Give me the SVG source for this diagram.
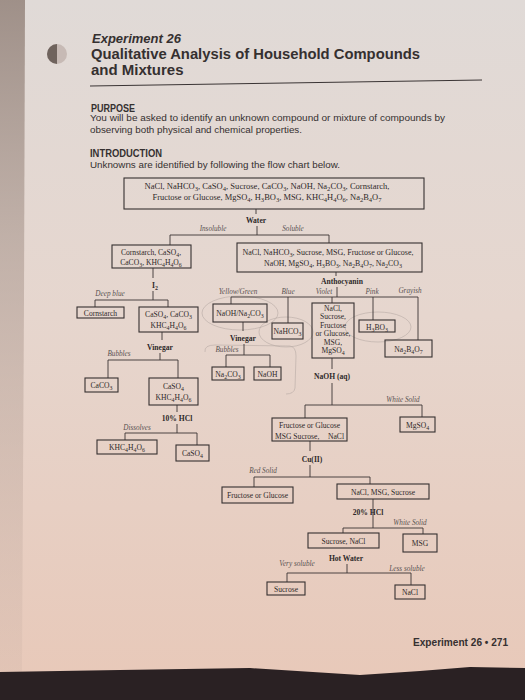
<svg xmlns="http://www.w3.org/2000/svg" width="525" height="700" viewBox="0 0 525 700">
<defs>
<linearGradient id="page" x1="0" y1="0" x2="0" y2="1">
<stop offset="0" stop-color="#e0dad7"/>
<stop offset="0.45" stop-color="#e6d6ce"/>
<stop offset="1" stop-color="#e8c8b8"/>
</linearGradient>
<linearGradient id="edge" x1="0" y1="0" x2="0" y2="1">
<stop offset="0" stop-color="#988880" stop-opacity="0.9"/>
<stop offset="0.35" stop-color="#a8968d" stop-opacity="0.6"/>
<stop offset="1" stop-color="#c7aea2" stop-opacity="0.2"/>
</linearGradient>
<style>
.h{font-family:"Liberation Sans",Arial,sans-serif;fill:#353030}
.t{font-family:"Liberation Serif","Times New Roman",serif;font-size:7.6px;fill:#2e2929;text-anchor:middle}
.b{font-weight:bold}
.l{font-family:"Liberation Serif","Times New Roman",serif;font-size:7.2px;font-style:italic;fill:#5a5252;text-anchor:middle}
.s{font-size:5.9px;baseline-shift:-1.6px}
.box{fill:none;stroke:#353030;stroke-width:1.1}
.c line{stroke:#3a3434;stroke-width:0.9}
.pen{fill:none;stroke:#b3a7a2;stroke-width:0.8;opacity:0.7}
</style>
</defs>
<rect width="525" height="700" fill="url(#page)"/>
<path d="M0,0 L25,0 L24,300 L22,672 L0,672 Z" fill="url(#edge)"/>
<circle cx="57" cy="54" r="10" fill="#c7bab5"/>
<path d="M57,44 A10,10 0 0 0 57,64 Z" fill="#6f635d"/>

<g id="header">
<text class="h" x="92" y="43" font-size="13" font-weight="bold" font-style="italic">Experiment 26</text>
<text class="h" x="91" y="59" font-size="15" font-weight="bold" textLength="329" lengthAdjust="spacingAndGlyphs">Qualitative Analysis of Household Compounds</text>
<text class="h" x="91" y="75" font-size="15" font-weight="bold">and Mixtures</text>
<line x1="90" y1="86" x2="482" y2="80" stroke="#3a3434" stroke-width="1"/>
<text class="h" x="91" y="112" font-size="11.5" font-weight="bold" textLength="44" lengthAdjust="spacingAndGlyphs">PURPOSE</text>
<text class="h" x="90" y="121" font-size="9" textLength="355" lengthAdjust="spacingAndGlyphs">You will be asked to identify an unknown compound or mixture of compounds by</text>
<text class="h" x="90" y="133" font-size="9" textLength="212" lengthAdjust="spacingAndGlyphs">observing both physical and chemical properties.</text>
<text class="h" x="90" y="157" font-size="11" font-weight="bold" textLength="72" lengthAdjust="spacingAndGlyphs">INTRODUCTION</text>
<text class="h" x="90" y="168" font-size="9" textLength="250" lengthAdjust="spacingAndGlyphs">Unknowns are identified by following the flow chart below.</text>
</g>

<g id="pencil">
<ellipse class="pen" cx="240" cy="313" rx="38" ry="17"/>
<ellipse class="pen" cx="286" cy="332" rx="27" ry="15"/>
<ellipse class="pen" cx="378" cy="327" rx="33" ry="15"/>
<path class="pen" d="M205,352 Q204,345 215,345 L290,346 Q296,347 296,356 L295,388 Q294,394 286,394"/>
</g>

<g class="c" id="connectors">
<line x1="256" y1="209" x2="256" y2="214"/>
<line x1="257" y1="226" x2="257" y2="235"/>
<line x1="170" y1="235" x2="329" y2="235"/>
<line x1="170" y1="235" x2="170" y2="245"/>
<line x1="329" y1="235" x2="329" y2="243"/>
<line x1="153" y1="268" x2="153" y2="278"/>
<line x1="153" y1="291" x2="153" y2="300"/>
<line x1="95" y1="300" x2="168" y2="300"/>
<line x1="95" y1="300" x2="95" y2="307"/>
<line x1="168" y1="300" x2="168" y2="307"/>
<line x1="162" y1="332" x2="162" y2="340"/>
<line x1="160" y1="353" x2="160" y2="360"/>
<line x1="108" y1="360" x2="178" y2="360"/>
<line x1="108" y1="360" x2="108" y2="378"/>
<line x1="178" y1="360" x2="178" y2="378"/>
<line x1="177" y1="405" x2="177" y2="412"/>
<line x1="177" y1="424" x2="177" y2="433"/>
<line x1="125" y1="433" x2="197" y2="433"/>
<line x1="125" y1="433" x2="125" y2="440"/>
<line x1="197" y1="433" x2="197" y2="445"/>
<line x1="336" y1="272" x2="336" y2="276"/>
<line x1="337" y1="287" x2="337" y2="297"/>
<line x1="231" y1="297" x2="418" y2="297"/>
<line x1="231" y1="297" x2="231" y2="304"/>
<line x1="288" y1="297" x2="288" y2="323"/>
<line x1="332" y1="297" x2="332" y2="303"/>
<line x1="373" y1="297" x2="373" y2="320"/>
<line x1="418" y1="297" x2="418" y2="340"/>
<line x1="243" y1="322" x2="243" y2="331"/>
<line x1="244" y1="344" x2="244" y2="355"/>
<line x1="226" y1="355" x2="270" y2="355"/>
<line x1="226" y1="355" x2="226" y2="367"/>
<line x1="270" y1="355" x2="270" y2="367"/>
<line x1="332" y1="358" x2="332" y2="369"/>
<line x1="332" y1="383" x2="332" y2="405"/>
<line x1="305" y1="405" x2="422" y2="405"/>
<line x1="305" y1="405" x2="305" y2="418"/>
<line x1="422" y1="405" x2="422" y2="417"/>
<line x1="310" y1="441" x2="310" y2="451"/>
<line x1="310" y1="465" x2="310" y2="477"/>
<line x1="254" y1="477" x2="370" y2="477"/>
<line x1="254" y1="477" x2="254" y2="487"/>
<line x1="370" y1="477" x2="370" y2="484"/>
<line x1="373" y1="499" x2="373" y2="528"/>
<line x1="343" y1="528" x2="423" y2="528"/>
<line x1="343" y1="528" x2="343" y2="533"/>
<line x1="423" y1="528" x2="423" y2="534"/>
<line x1="347" y1="564" x2="347" y2="573"/>
<line x1="287" y1="573" x2="411" y2="573"/>
<line x1="287" y1="573" x2="287" y2="582"/>
<line x1="411" y1="573" x2="411" y2="585"/>
</g>

<g id="edge-labels">
<text class="t b" x="256" y="223">Water</text>
<text class="l" x="213" y="231">Insoluble</text>
<text class="l" x="293" y="231">Soluble</text>
<text class="t b" x="155" y="288">I<tspan class="s">2</tspan></text>
<text class="l" x="110" y="296">Deep blue</text>
<text class="t b" x="160" y="350">Vinegar</text>
<text class="l" x="119" y="356">Bubbles</text>
<text class="t b" x="177" y="421">10% HCl</text>
<text class="l" x="137" y="430">Dissolves</text>
<text class="t b" x="342" y="284">Anthocyanin</text>
<text class="l" x="238" y="294">Yellow/Green</text>
<text class="l" x="288" y="294">Blue</text>
<text class="l" x="324" y="294">Violet</text>
<text class="l" x="372" y="294">Pink</text>
<text class="l" x="410" y="293">Grayish</text>
<text class="t b" x="243" y="341">Vinegar</text>
<text class="l" x="227" y="352">Bubbles</text>
<text class="t b" x="332" y="379">NaOH (aq)</text>
<text class="l" x="403" y="402">White Solid</text>
<text class="t b" x="312" y="462">Cu(II)</text>
<text class="l" x="263" y="473">Red Solid</text>
<text class="t b" x="368" y="515">20% HCl</text>
<text class="l" x="410" y="525">White Solid</text>
<text class="t b" x="346" y="561">Hot Water</text>
<text class="l" x="297" y="566">Very soluble</text>
<text class="l" x="407" y="571">Less soluble</text>
</g>

<g id="n-all">
<rect class="box" x="124" y="178" width="300" height="31"/>
<text class="t" x="267" y="189" textLength="245" lengthAdjust="spacingAndGlyphs">NaCl,  NaHCO<tspan class="s">3</tspan>, CaSO<tspan class="s">4</tspan>, Sucrose, CaCO<tspan class="s">3</tspan>, NaOH,  Na<tspan class="s">2</tspan>CO<tspan class="s">3</tspan>, Cornstarch,</text>
<text class="t" x="267" y="200" textLength="229" lengthAdjust="spacingAndGlyphs">Fructose or Glucose, MgSO<tspan class="s">4</tspan>, H<tspan class="s">3</tspan>BO<tspan class="s">3</tspan>, MSG, KHC<tspan class="s">4</tspan>H<tspan class="s">4</tspan>O<tspan class="s">6</tspan>, Na<tspan class="s">2</tspan>B<tspan class="s">4</tspan>O<tspan class="s">7</tspan></text>
</g>
<g id="n-insoluble">
<rect class="box" x="112" y="245" width="79" height="23"/>
<text class="t" x="151" y="255">Cornstarch, CaSO<tspan class="s">4</tspan>,</text>
<text class="t" x="151" y="265">CaCO<tspan class="s">3</tspan>, KHC<tspan class="s">4</tspan>H<tspan class="s">4</tspan>O<tspan class="s">6</tspan></text>
</g>
<g id="n-soluble">
<rect class="box" x="237" y="243" width="185" height="29"/>
<text class="t" x="328" y="255" textLength="171" lengthAdjust="spacingAndGlyphs">NaCl, NaHCO<tspan class="s">3</tspan>, Sucrose, MSG, Fructose or Glucose,</text>
<text class="t" x="333" y="266" textLength="138" lengthAdjust="spacingAndGlyphs">NaOH, MgSO<tspan class="s">4</tspan>, H<tspan class="s">3</tspan>BO<tspan class="s">3</tspan>, Na<tspan class="s">2</tspan>B<tspan class="s">4</tspan>O<tspan class="s">7</tspan>, Na<tspan class="s">2</tspan>CO<tspan class="s">3</tspan></text>
</g>
<g id="n-cornstarch">
<rect class="box" x="77" y="307" width="47" height="11"/>
<text class="t" x="100.5" y="315.5">Cornstarch</text>
</g>
<g id="n-caso4-caco3-khc">
<rect class="box" x="139" y="307" width="59" height="25"/>
<text class="t" x="168.5" y="317">CaSO<tspan class="s">4</tspan>, CaCO<tspan class="s">3</tspan></text>
<text class="t" x="168.5" y="328">KHC<tspan class="s">4</tspan>H<tspan class="s">4</tspan>O<tspan class="s">6</tspan></text>
</g>
<g id="n-caco3">
<rect class="box" x="85" y="378" width="33" height="14"/>
<text class="t" x="101.5" y="388">CaCO<tspan class="s">3</tspan></text>
</g>
<g id="n-caso4-khc">
<rect class="box" x="149" y="378" width="49" height="27"/>
<text class="t" x="173.5" y="388.5">CaSO<tspan class="s">4</tspan></text>
<text class="t" x="173.5" y="400">KHC<tspan class="s">4</tspan>H<tspan class="s">4</tspan>O<tspan class="s">6</tspan></text>
</g>
<g id="n-khc">
<rect class="box" x="97" y="440" width="60" height="14"/>
<text class="t" x="127" y="450">KHC<tspan class="s">4</tspan>H<tspan class="s">4</tspan>O<tspan class="s">6</tspan></text>
</g>
<g id="n-caso4">
<rect class="box" x="176" y="445" width="33" height="16"/>
<text class="t" x="192.5" y="456">CaSO<tspan class="s">4</tspan></text>
</g>
<g id="n-naoh-na2co3">
<rect class="box" x="213" y="304" width="54" height="18"/>
<text class="t" x="240" y="316">NaOH/Na<tspan class="s">2</tspan>CO<tspan class="s">3</tspan></text>
</g>
<g id="n-nahco3">
<rect class="box" x="272" y="323" width="31" height="16"/>
<text class="t" x="287.5" y="334">NaHCO<tspan class="s">3</tspan></text>
</g>
<g id="n-violet">
<rect class="box" x="312" y="303" width="42" height="55"/>
<text class="t" x="333" y="310.5">NaCl,</text>
<text class="t" x="333" y="319">Sucrose,</text>
<text class="t" x="333" y="327.5">Fructose</text>
<text class="t" x="333" y="336">or Glucose,</text>
<text class="t" x="333" y="344.5">MSG,</text>
<text class="t" x="333" y="353">MgSO<tspan class="s">4</tspan></text>
</g>
<g id="n-h3bo3">
<rect class="box" x="359" y="320" width="36" height="12"/>
<text class="t" x="377" y="329.5">H<tspan class="s">3</tspan>BO<tspan class="s">3</tspan></text>
</g>
<g id="n-na2b4o7">
<rect class="box" x="385" y="340" width="47" height="17"/>
<text class="t" x="408.5" y="351.5">Na<tspan class="s">2</tspan>B<tspan class="s">4</tspan>O<tspan class="s">7</tspan></text>
</g>
<g id="n-na2co3">
<rect class="box" x="212" y="367" width="32" height="13"/>
<text class="t" x="228" y="377">Na<tspan class="s">2</tspan>CO<tspan class="s">3</tspan></text>
</g>
<g id="n-naoh">
<rect class="box" x="254" y="367" width="27" height="13"/>
<text class="t" x="267.5" y="377">NaOH</text>
</g>
<g id="n-fructose-msg-sucrose-nacl">
<rect class="box" x="272" y="418" width="75" height="23"/>
<text class="t" x="309.5" y="428">Fructose or Glucose</text>
<text class="t" x="275" y="438.5" style="text-anchor:start">MSG Sucrose,</text>
<text class="t" x="344" y="438.5" style="text-anchor:end">NaCl</text>
</g>
<g id="n-mgso4">
<rect class="box" x="400" y="417" width="35" height="15"/>
<text class="t" x="417.5" y="427.5">MgSO<tspan class="s">4</tspan></text>
</g>
<g id="n-fructose">
<rect class="box" x="222" y="487" width="71" height="16"/>
<text class="t" x="257.5" y="498">Fructose or Glucose</text>
</g>
<g id="n-nacl-msg-sucrose">
<rect class="box" x="337" y="484" width="92" height="15"/>
<text class="t" x="383" y="494.5">NaCl, MSG, Sucrose</text>
</g>
<g id="n-sucrose-nacl">
<rect class="box" x="308" y="533" width="71" height="15"/>
<text class="t" x="343.5" y="543.5">Sucrose, NaCl</text>
</g>
<g id="n-msg">
<rect class="box" x="403" y="534" width="34" height="18"/>
<text class="t" x="420" y="546">MSG</text>
</g>
<g id="n-sucrose">
<rect class="box" x="267" y="582" width="38" height="13"/>
<text class="t" x="286" y="591.5">Sucrose</text>
</g>
<g id="n-nacl">
<rect class="box" x="395" y="585" width="30" height="14"/>
<text class="t" x="410" y="595">NaCl</text>
</g>

<g id="footer">
<text class="h" x="413" y="646" font-size="10" font-weight="bold" textLength="95" lengthAdjust="spacingAndGlyphs">Experiment 26 • 271</text>
</g>
<path d="M0,672 L120,670 L250,668 L360,675 L420,671 L470,667 L525,668 L525,700 L0,700 Z" fill="#2a2123"/>
</svg>
